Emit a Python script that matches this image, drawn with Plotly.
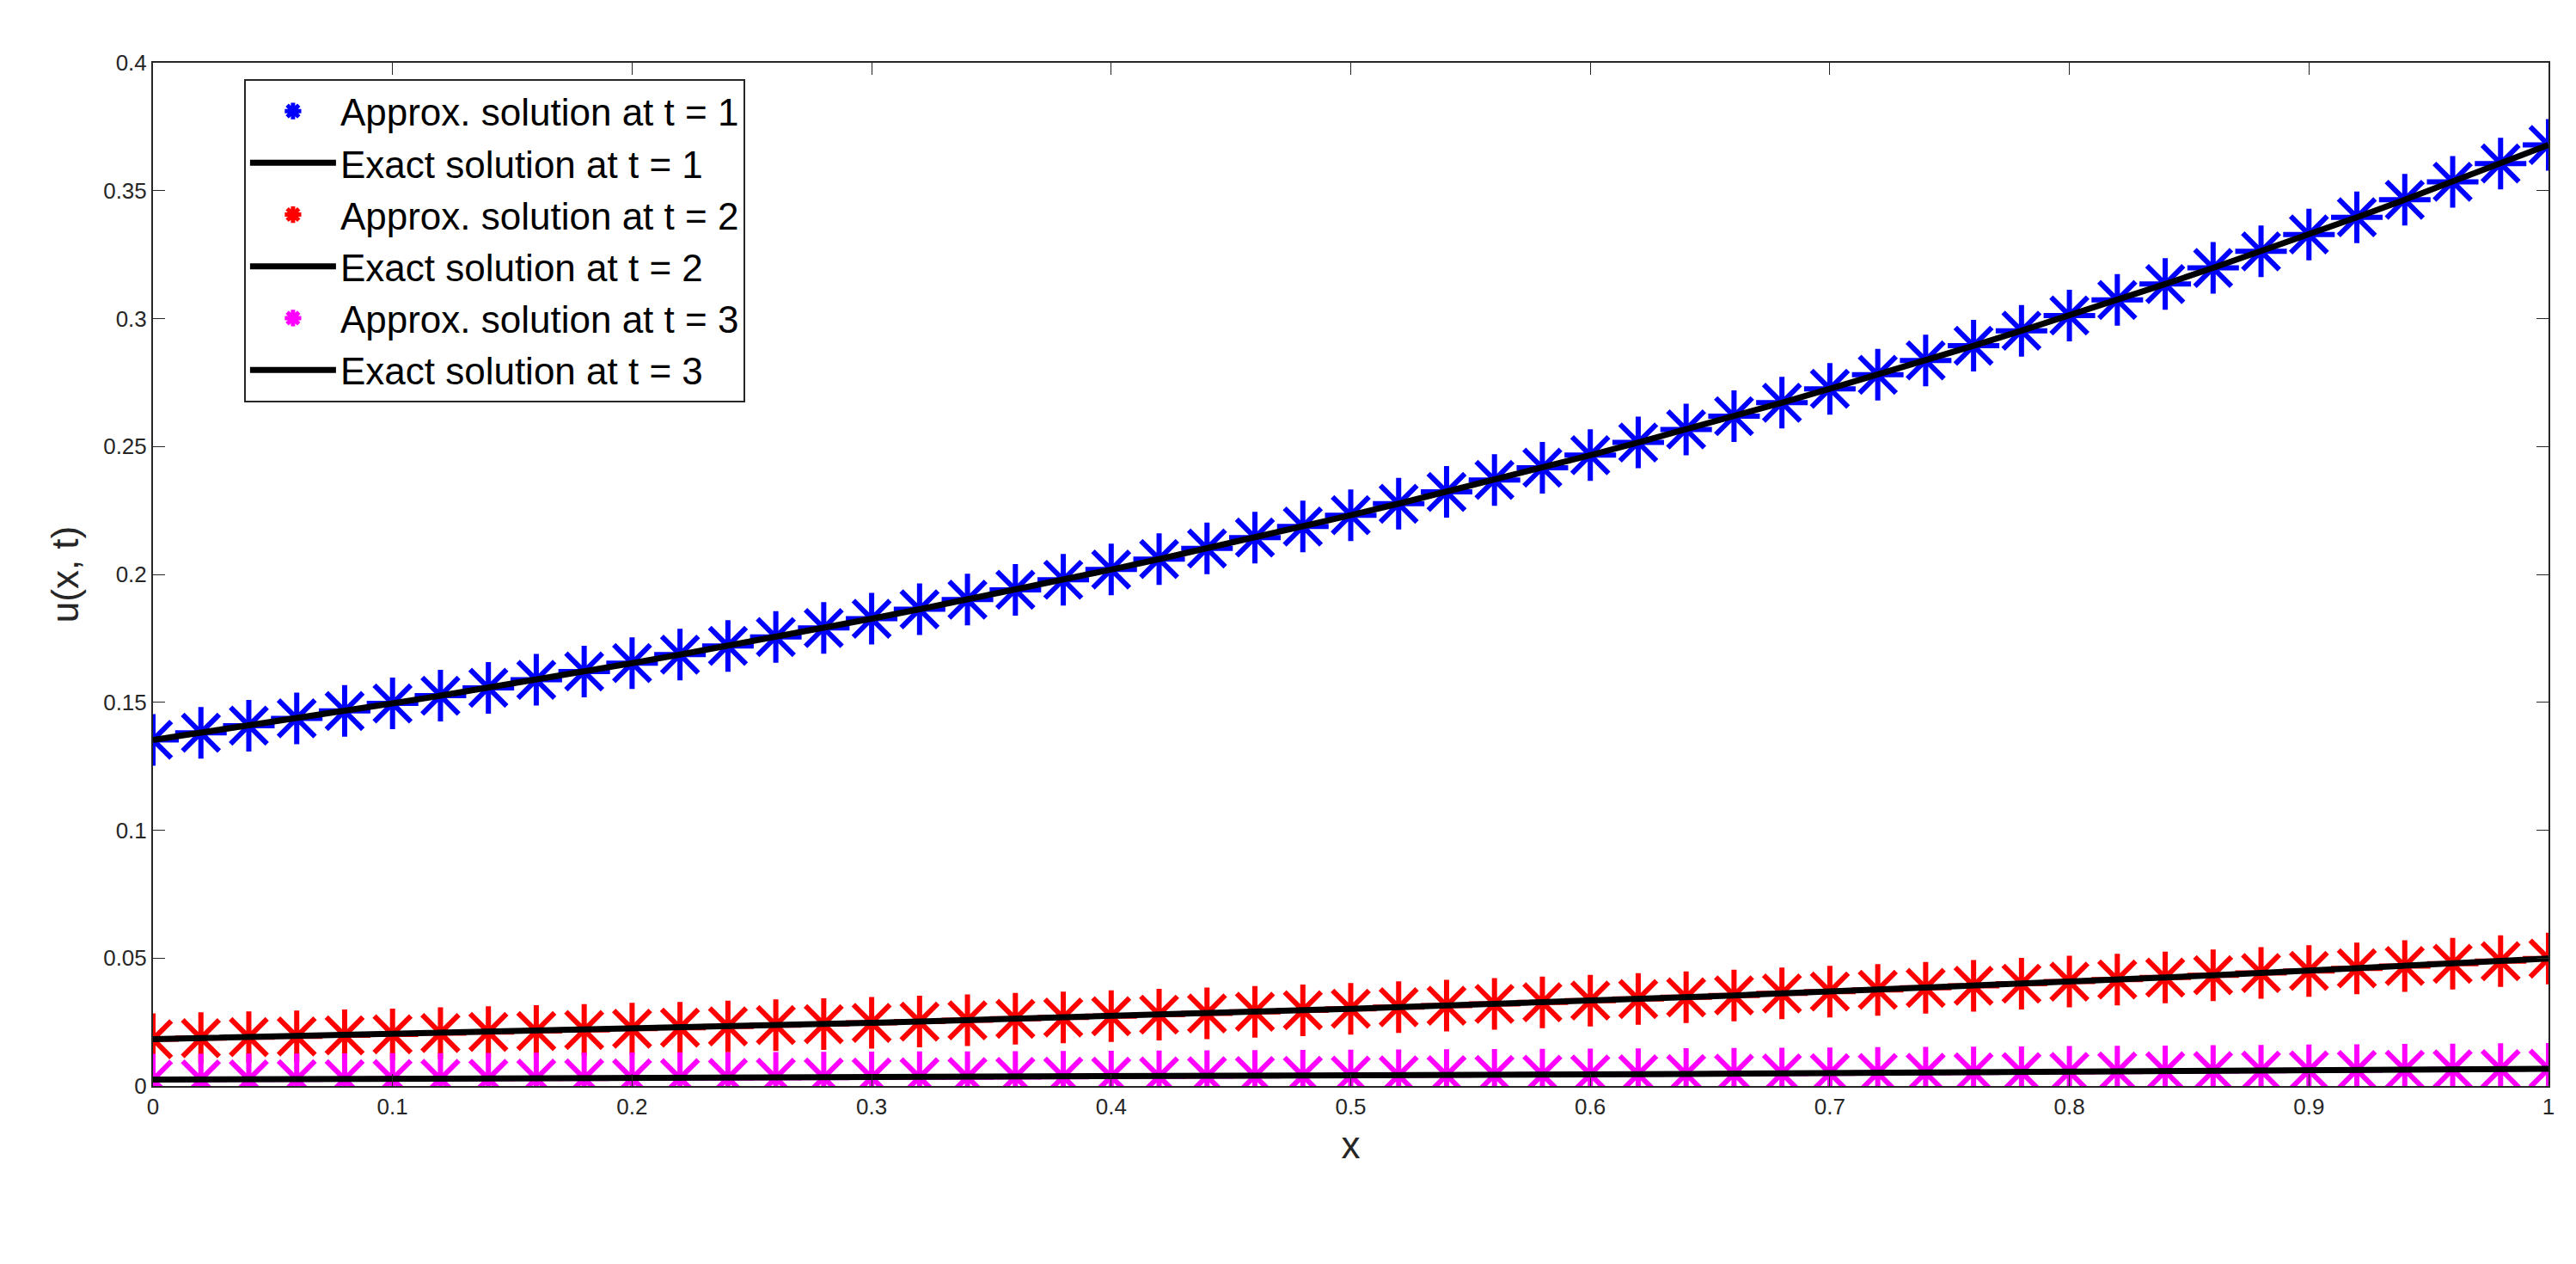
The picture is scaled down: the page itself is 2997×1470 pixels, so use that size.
import plotly.graph_objects as go

x = [round(i * 0.02, 2) for i in range(51)]
u_t1 = [0.1353,0.13807,0.14086,0.14370,0.14661,0.14957,0.15259,0.15567,0.15882,0.16203,0.16530,0.16864,0.17204,0.17552,0.17907,0.18268,0.18637,0.19014,0.19398,0.19790,0.20190,0.20598,0.21014,0.21438,0.21871,0.22313,0.22764,0.23224,0.23693,0.24171,0.24660,0.25158,0.25666,0.26185,0.26714,0.27253,0.27804,0.28365,0.28938,0.29523,0.30119,0.30728,0.31349,0.31982,0.32628,0.33287,0.33960,0.34646,0.35345,0.36059,0.36788]
u_t2 = [0.0183,0.0187,0.0191,0.0194,0.0198,0.0202,0.0207,0.0211,0.0215,0.0219,0.0224,0.0228,0.0233,0.0238,0.0242,0.0247,0.0252,0.0257,0.0263,0.0268,0.0273,0.0279,0.0284,0.0290,0.0296,0.0302,0.0308,0.0314,0.0321,0.0327,0.0334,0.0340,0.0347,0.0354,0.0362,0.0369,0.0376,0.0384,0.0392,0.0400,0.0408,0.0416,0.0424,0.0433,0.0442,0.0450,0.0460,0.0469,0.0478,0.0488,0.0498]
u_t3 = [0.00248,0.00253,0.00258,0.00263,0.00268,0.00274,0.00279,0.00285,0.00291,0.00296,0.00302,0.00309,0.00315,0.00321,0.00328,0.00334,0.00341,0.00348,0.00355,0.00362,0.00369,0.00377,0.00384,0.00392,0.00400,0.00409,0.00417,0.00425,0.00434,0.00443,0.00452,0.00461,0.00470,0.00480,0.00490,0.00500,0.00510,0.00520,0.00531,0.00542,0.00553,0.00564,0.00575,0.00587,0.00599,0.00611,0.00624,0.00636,0.00649,0.00662,0.00674]

series = [(u_t1, "#0000ff", "1"), (u_t2, "#ff0000", "2"), (u_t3, "#ff00ff", "3")]

fig = go.Figure()
for y, c, t in series:
    fig.add_trace(go.Scatter(x=x, y=y, mode="markers", name=f"Approx. solution at t = {t}",
                             marker=dict(symbol="asterisk-open", size=50, color=c, line=dict(color=c, width=6))))
    fig.add_trace(go.Scatter(x=x, y=y, mode="lines", name=f"Exact solution at t = {t}",
                             line=dict(color="black", width=7)))

ax = dict(showline=True, linecolor="#262626", linewidth=2, mirror="ticks", ticks="inside",
          ticklen=14, tickcolor="#262626", showgrid=False, zeroline=False,
          tickfont=dict(family="Liberation Sans", size=26, color="#262626"))
fig.update_xaxes(ax, range=[0, 1], dtick=0.1, title=dict(text="x", font=dict(size=44, family="Liberation Sans", color="#262626")))
fig.update_yaxes(ax, range=[0, 0.4], dtick=0.05, title=dict(text="u(x, t)", font=dict(size=44, family="Liberation Sans", color="#262626")))
fig.update_layout(
    width=2997, height=1470, plot_bgcolor="white", paper_bgcolor="white",
    margin=dict(l=170, r=40, t=65, b=215),
    legend=dict(x=0.038, y=0.984, xanchor="left", yanchor="top", bgcolor="white",
                bordercolor="#262626", borderwidth=2,
                font=dict(family="Liberation Sans", size=44, color="black"),
                itemwidth=100, tracegroupgap=10),
)
fig.write_html("out.html")
